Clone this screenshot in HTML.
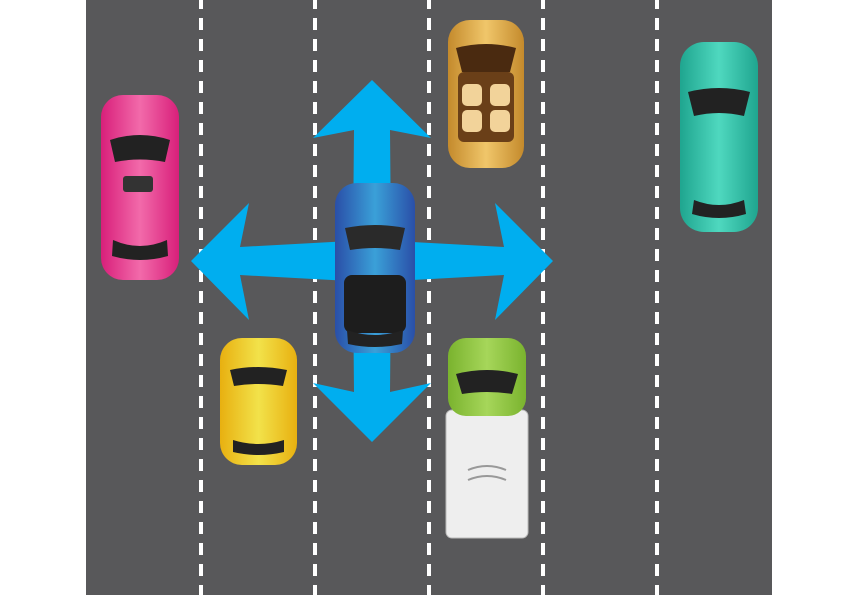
<!DOCTYPE html>
<html><head><meta charset="utf-8"><style>html,body{margin:0;padding:0;background:#fff}svg{display:block}</style></head>
<body>
<svg width="842" height="595" viewBox="0 0 842 595" xmlns="http://www.w3.org/2000/svg">
<defs>
<linearGradient id="gb" x1="0" x2="1"><stop offset="0" stop-color="#2a4fa8"/><stop offset=".5" stop-color="#3aa0d8"/><stop offset="1" stop-color="#2a4fa8"/></linearGradient>
<linearGradient id="gp" x1="0" x2="1"><stop offset="0" stop-color="#d81f7a"/><stop offset=".5" stop-color="#f26aaa"/><stop offset="1" stop-color="#d81f7a"/></linearGradient>
<linearGradient id="gt" x1="0" x2="1"><stop offset="0" stop-color="#1fa58f"/><stop offset=".5" stop-color="#4fd8bf"/><stop offset="1" stop-color="#1fa58f"/></linearGradient>
<linearGradient id="gy" x1="0" x2="1"><stop offset="0" stop-color="#e8b010"/><stop offset=".5" stop-color="#f2e24a"/><stop offset="1" stop-color="#e8b010"/></linearGradient>
<linearGradient id="gg" x1="0" x2="1"><stop offset="0" stop-color="#7ab32e"/><stop offset=".5" stop-color="#a6d65a"/><stop offset="1" stop-color="#7ab32e"/></linearGradient>
<linearGradient id="go" x1="0" x2="1"><stop offset="0" stop-color="#c48a2c"/><stop offset=".5" stop-color="#f0c66a"/><stop offset="1" stop-color="#c48a2c"/></linearGradient>
</defs>
<rect x="86" y="0" width="686" height="595" fill="#58585a"/>
<g stroke="#fff" stroke-width="4" stroke-dasharray="12 9">
<line x1="201" y1="-3" x2="201" y2="595"/>
<line x1="315" y1="-3" x2="315" y2="595"/>
<line x1="429" y1="-3" x2="429" y2="595"/>
<line x1="543" y1="-3" x2="543" y2="595"/>
<line x1="657" y1="-3" x2="657" y2="595"/>
</g>
<!-- arrows -->
<g fill="#00aeef">
<polygon points="372,80 431,138 390,130 391,240 353,240 354,130 313,138"/>
<polygon points="372,442 431,383 390,392 391,282 353,282 354,392 313,383"/>
<polygon points="191,261 249,203 240,247 350,241 350,281 240,275 249,320"/>
<polygon points="553,261 495,203 504,247 394,241 394,281 504,275 495,320"/>
</g>
<!-- pink car -->
<g>
<rect x="101" y="95" width="78" height="185" rx="22" fill="url(#gp)"/>
<path d="M110 140 Q140 130 170 140 L165 162 Q140 157 115 162 Z" fill="#222"/>
<rect x="123" y="176" width="30" height="16" rx="3" fill="#333"/>
<path d="M113 240 Q140 252 167 240 L168 256 Q140 264 112 256 Z" fill="#222"/>
</g>
<!-- gold car -->
<g>
<rect x="448" y="20" width="76" height="148" rx="22" fill="url(#go)"/>
<path d="M456 48 Q486 40 516 48 L510 72 L462 72 Z" fill="#4a2a10"/>
<rect x="458" y="72" width="56" height="70" rx="6" fill="#6a3f18"/>
<rect x="462" y="84" width="20" height="22" rx="5" fill="#f2d39a"/><rect x="490" y="84" width="20" height="22" rx="5" fill="#f2d39a"/>
<rect x="462" y="110" width="20" height="22" rx="5" fill="#f2d39a"/><rect x="490" y="110" width="20" height="22" rx="5" fill="#f2d39a"/>
</g>
<!-- teal car -->
<g>
<rect x="680" y="42" width="78" height="190" rx="24" fill="url(#gt)"/>
<path d="M688 92 Q719 84 750 92 L744 116 Q719 110 694 116 Z" fill="#222"/>
<path d="M694 200 Q719 210 744 200 L746 214 Q719 222 692 214 Z" fill="#222"/>
</g>
<!-- blue car -->
<g>
<rect x="335" y="183" width="80" height="170" rx="22" fill="url(#gb)"/>
<path d="M345 228 Q375 222 405 228 L400 250 Q375 246 350 250 Z" fill="#2a2a2a"/>
<rect x="344" y="275" width="62" height="58" rx="8" fill="#1d1d1d"/>
<path d="M347 330 Q375 340 403 330 L402 344 Q375 350 348 344 Z" fill="#222"/>
</g>
<!-- yellow car -->
<g>
<rect x="220" y="338" width="77" height="127" rx="22" fill="url(#gy)"/>
<path d="M230 370 Q258 364 287 370 L283 386 Q258 382 234 386 Z" fill="#222"/>
<path d="M233 440 Q258 448 284 440 L284 452 Q258 458 233 452 Z" fill="#222"/>
</g>
<!-- green truck -->
<g>
<rect x="446" y="410" width="82" height="128" rx="6" fill="#eeeeee" stroke="#bbb"/>
<rect x="448" y="338" width="78" height="78" rx="18" fill="url(#gg)"/>
<path d="M456 374 Q487 366 518 374 L512 394 Q487 390 462 394 Z" fill="#222"/>
<path d="M468 470 Q487 462 506 470" stroke="#999" fill="none" stroke-width="2"/>
<path d="M468 480 Q487 472 506 480" stroke="#999" fill="none" stroke-width="2"/>
</g>
</svg>
</body></html>
